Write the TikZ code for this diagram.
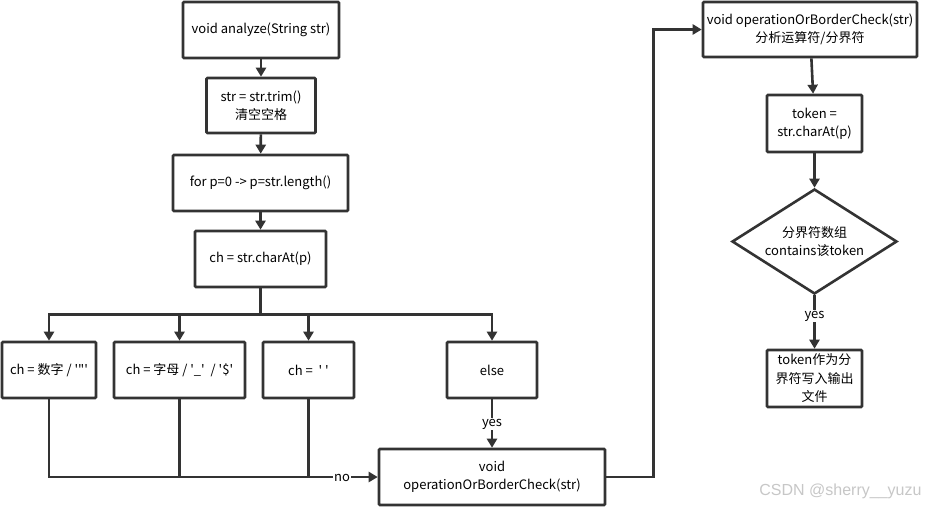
\documentclass[tikz,border=0pt]{standalone}
\usepackage{fontspec}
\setmainfont{Noto Sans CJK SC}[Ligatures=TeXOff]
\newfontfamily\wmfont{Liberation Sans}
\usetikzlibrary{arrows.meta,shapes.geometric}
\definecolor{ln}{HTML}{333333}
\begin{document}
\begin{tikzpicture}[x=1pt,y=-1pt,
  box/.style={draw=ln, line width=2.6pt, rounded corners=1pt, align=center, inner sep=0pt,
    font=\fontsize{13}{18}\selectfont, text=black},
  dia/.style={draw=ln, line width=2.6pt, diamond, aspect=1.57, align=center, inner sep=0pt,
    minimum width=165pt, minimum height=105pt, font=\fontsize{13}{18}\selectfont},
  arr/.style={draw=ln, line width=2.6pt, -{Triangle[width=10pt,length=9pt]}},
  ln/.style={draw=ln, line width=2.6pt},
  lbl/.style={fill=white, inner sep=1pt, font=\fontsize{13}{15}\selectfont}
]
\useasboundingbox[fill=white] (0,0) rectangle (928,507);

\node[box, minimum width=156pt, minimum height=56pt] (a) at (261,30) {void analyze(String str)};
\node[box, minimum width=109pt, minimum height=55pt] (b) at (261,105.5) {str = str.trim()\\清空空格};
\node[box, minimum width=175pt, minimum height=56pt] (c) at (260.5,183) {for p=0 -> p=str.length()};
\node[box, minimum width=131pt, minimum height=56pt] (d) at (260.5,259) {ch = str.charAt(p)};

\node[box, minimum width=94pt, minimum height=56pt] (e1) at (49,370) {ch = 数字 / '"'};
\node[box, minimum width=131pt, minimum height=56pt] (e2) at (179.5,370) {ch = 字母 / '\_' ~/ '\$'};
\node[box, minimum width=91pt, minimum height=56pt] (e3) at (308.5,370) {ch = ~' '};
\node[box, minimum width=90pt, minimum height=56pt] (e4) at (492,370) {else};

\node[box, minimum width=226pt, minimum height=56pt] (f) at (492,477) {void\\operationOrBorderCheck(str)};

\node[box, minimum width=214pt, minimum height=55pt] (g) at (810,29.5) {void operationOrBorderCheck(str)\\分析运算符/分界符};
\node[box, minimum width=95pt, minimum height=57pt] (h) at (814.5,123.5) {token =\\str.charAt(p)};
\node[dia] (i) at (814.5,241.5) {分界符数组\\contains该token};
\node[box, minimum width=95pt, minimum height=57pt, font=\fontsize{13}{18.5}\selectfont] (j) at (814.5,378.5) {token作为分\\界符写入输出\\文件};

\draw[arr] (a) -- (b);
\draw[arr] (b) -- (c);
\draw[arr] (c) -- (d);
\draw[ln] (d.south) -- ++(0,26) coordinate (br);
\draw[arr] (br) -| (e1);
\draw[arr] (br) -| (e2);
\draw[arr] (br) -| (e3);
\draw[arr] (br) -| (e4);

\draw[arr] (e1.south) |- (f.west);
\draw[ln] (e2.south) -- (e2.south |- f.west);
\draw[ln] (e3.south) -- (e3.south |- f.west);
\node[lbl] (no) at (342,478) {no};
\draw[arr] (e4) -- (f);
\node[lbl] (yes1) at (492,424) {yes};

\draw[arr] (f.east) -- ++(47,0) |- (g.west);
\draw[arr] (g) -- (h);
\draw[arr] (h) -- (i);
\draw[arr] (i) -- (j);
\node[lbl] (yes2) at (814.5,316) {yes};

\node[font=\wmfont\fontsize{16}{16}\selectfont, text=black!22, anchor=east] (wm) at (925,491) {CSDN @sherry\_\_yuzu};
\end{tikzpicture}
\end{document}
